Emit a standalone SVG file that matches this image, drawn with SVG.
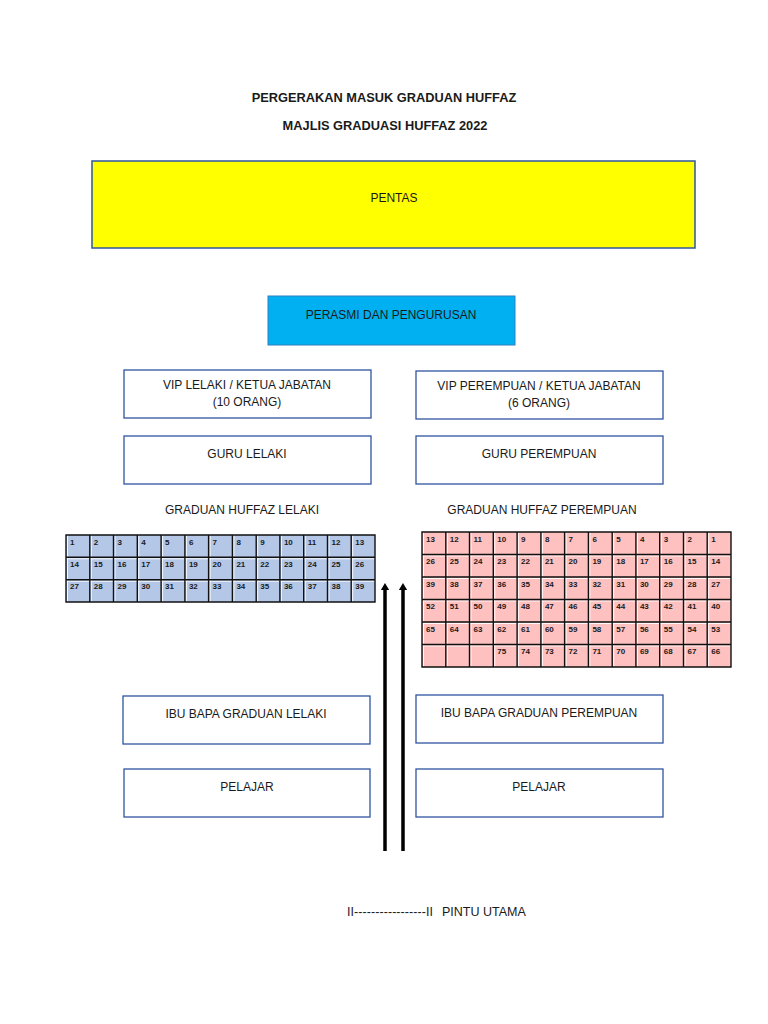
<svg xmlns="http://www.w3.org/2000/svg" width="768" height="1024" viewBox="0 0 768 1024">
<style>
text{font-family:"Liberation Sans",Arial,sans-serif;fill:#1a1a1a}
.t{font-size:12px;text-anchor:middle}
.h{font-size:12.8px;font-weight:bold;text-anchor:middle}
.box{fill:#fff;stroke:#2f55a0;stroke-width:1.3}
.n{font-size:8px;font-weight:bold}
.gl{stroke:#111;stroke-width:1.4;fill:none}
.gw{stroke:#fff;stroke-width:0.9;fill:none}
</style>
<defs>
<marker id="ah" markerWidth="2" markerHeight="2.4" refX="0" refY="1.2" orient="auto" markerUnits="strokeWidth"><path d="M0,0 L2,1.2 L0,2.4 z" fill="#000"/></marker>
</defs>
<rect width="768" height="1024" fill="#fff"/>
<g id="title">
<text class="h" x="384" y="102">PERGERAKAN MASUK GRADUAN HUFFAZ</text>
<text class="h" x="385" y="130">MAJLIS GRADUASI HUFFAZ 2022</text>
</g>
<g id="pentas"><rect x="92" y="161" width="603" height="87" fill="#ffff00" stroke="#2f55a0" stroke-width="1.5"/><text class="t" x="394" y="202">PENTAS</text></g>
<g id="perasmi"><rect x="268" y="296" width="247" height="49" fill="#00b0f0" stroke="#2f80c0" stroke-width="1"/><text class="t" x="391" y="319">PERASMI DAN PENGURUSAN</text></g>
<g id="vip-lelaki"><rect class="box" x="124" y="370" width="247" height="48"/><text class="t" x="247" y="389">VIP LELAKI / KETUA JABATAN</text><text class="t" x="247" y="406">(10 ORANG)</text></g>
<g id="vip-perempuan"><rect class="box" x="416" y="371" width="247" height="48"/><text class="t" x="539" y="390">VIP PEREMPUAN / KETUA JABATAN</text><text class="t" x="539" y="407">(6 ORANG)</text></g>
<g id="guru-lelaki"><rect class="box" x="124" y="436" width="247" height="48"/><text class="t" x="247" y="458">GURU LELAKI</text></g>
<g id="guru-perempuan"><rect class="box" x="416" y="436" width="247" height="48" stroke-width="1.8"/><text class="t" x="539" y="458">GURU PEREMPUAN</text></g>
<g id="labels">
<text class="t" x="242" y="514">GRADUAN HUFFAZ LELAKI</text>
<text class="t" x="542" y="514">GRADUAN HUFFAZ PEREMPUAN</text>
</g>
<g id="grid-lelaki">
<rect x="66" y="535" width="309" height="67" fill="#b4c7e7"/>
<path class="gw" d="M67.5,535V602M91.3,535V602M115,535V602M138.8,535V602M162.6,535V602M186.4,535V602M210.1,535V602M233.9,535V602M257.7,535V602M281.4,535V602M305.2,535V602M329,535V602M352.7,535V602M66,558.8H375M66,581.2H375"/>
<path class="gl" d="M66,535H375V602H66Z M89.8,535V602M113.5,535V602M137.3,535V602M161.1,535V602M184.9,535V602M208.6,535V602M232.4,535V602M256.2,535V602M279.9,535V602M303.7,535V602M327.5,535V602M351.2,535V602M66,557.3H375M66,579.7H375"/>
<g>
<text class="n" x="70" y="544.5">1</text><text class="n" x="93.8" y="544.5">2</text><text class="n" x="117.5" y="544.5">3</text><text class="n" x="141.3" y="544.5">4</text><text class="n" x="165.1" y="544.5">5</text><text class="n" x="188.9" y="544.5">6</text><text class="n" x="212.6" y="544.5">7</text><text class="n" x="236.4" y="544.5">8</text><text class="n" x="260.2" y="544.5">9</text><text class="n" x="283.9" y="544.5">10</text><text class="n" x="307.7" y="544.5">11</text><text class="n" x="331.5" y="544.5">12</text><text class="n" x="355.2" y="544.5">13</text>
<text class="n" x="70" y="566.8">14</text><text class="n" x="93.8" y="566.8">15</text><text class="n" x="117.5" y="566.8">16</text><text class="n" x="141.3" y="566.8">17</text><text class="n" x="165.1" y="566.8">18</text><text class="n" x="188.9" y="566.8">19</text><text class="n" x="212.6" y="566.8">20</text><text class="n" x="236.4" y="566.8">21</text><text class="n" x="260.2" y="566.8">22</text><text class="n" x="283.9" y="566.8">23</text><text class="n" x="307.7" y="566.8">24</text><text class="n" x="331.5" y="566.8">25</text><text class="n" x="355.2" y="566.8">26</text>
<text class="n" x="70" y="589.2">27</text><text class="n" x="93.8" y="589.2">28</text><text class="n" x="117.5" y="589.2">29</text><text class="n" x="141.3" y="589.2">30</text><text class="n" x="165.1" y="589.2">31</text><text class="n" x="188.9" y="589.2">32</text><text class="n" x="212.6" y="589.2">33</text><text class="n" x="236.4" y="589.2">34</text><text class="n" x="260.2" y="589.2">35</text><text class="n" x="283.9" y="589.2">36</text><text class="n" x="307.7" y="589.2">37</text><text class="n" x="331.5" y="589.2">38</text><text class="n" x="355.2" y="589.2">39</text>
</g>
</g>
<g id="grid-perempuan">
<rect x="422" y="532" width="309" height="135" fill="#ffc0c0"/>
<path class="gw" d="M423.5,532V667M447.3,532V667M471,532V667M494.8,532V667M518.6,532V667M542.4,532V667M566.1,532V667M589.9,532V667M613.7,532V667M637.4,532V667M661.2,532V667M685,532V667M708.7,532V667M422,556H731M422,578.5H731M422,601H731M422,623.5H731M422,646H731"/>
<path class="gl" d="M422,532H731V667H422Z M445.8,532V667M469.5,532V667M493.3,532V667M517.1,532V667M540.9,532V667M564.6,532V667M588.4,532V667M612.2,532V667M635.9,532V667M659.7,532V667M683.5,532V667M707.2,532V667M422,554.5H731M422,577H731M422,599.5H731M422,622H731M422,644.5H731"/>
<g>
<text class="n" x="426" y="541.5">13</text><text class="n" x="449.8" y="541.5">12</text><text class="n" x="473.5" y="541.5">11</text><text class="n" x="497.3" y="541.5">10</text><text class="n" x="521.1" y="541.5">9</text><text class="n" x="544.9" y="541.5">8</text><text class="n" x="568.6" y="541.5">7</text><text class="n" x="592.4" y="541.5">6</text><text class="n" x="616.2" y="541.5">5</text><text class="n" x="639.9" y="541.5">4</text><text class="n" x="663.7" y="541.5">3</text><text class="n" x="687.5" y="541.5">2</text><text class="n" x="711.2" y="541.5">1</text>
<text class="n" x="426" y="564">26</text><text class="n" x="449.8" y="564">25</text><text class="n" x="473.5" y="564">24</text><text class="n" x="497.3" y="564">23</text><text class="n" x="521.1" y="564">22</text><text class="n" x="544.9" y="564">21</text><text class="n" x="568.6" y="564">20</text><text class="n" x="592.4" y="564">19</text><text class="n" x="616.2" y="564">18</text><text class="n" x="639.9" y="564">17</text><text class="n" x="663.7" y="564">16</text><text class="n" x="687.5" y="564">15</text><text class="n" x="711.2" y="564">14</text>
<text class="n" x="426" y="586.5">39</text><text class="n" x="449.8" y="586.5">38</text><text class="n" x="473.5" y="586.5">37</text><text class="n" x="497.3" y="586.5">36</text><text class="n" x="521.1" y="586.5">35</text><text class="n" x="544.9" y="586.5">34</text><text class="n" x="568.6" y="586.5">33</text><text class="n" x="592.4" y="586.5">32</text><text class="n" x="616.2" y="586.5">31</text><text class="n" x="639.9" y="586.5">30</text><text class="n" x="663.7" y="586.5">29</text><text class="n" x="687.5" y="586.5">28</text><text class="n" x="711.2" y="586.5">27</text>
<text class="n" x="426" y="609">52</text><text class="n" x="449.8" y="609">51</text><text class="n" x="473.5" y="609">50</text><text class="n" x="497.3" y="609">49</text><text class="n" x="521.1" y="609">48</text><text class="n" x="544.9" y="609">47</text><text class="n" x="568.6" y="609">46</text><text class="n" x="592.4" y="609">45</text><text class="n" x="616.2" y="609">44</text><text class="n" x="639.9" y="609">43</text><text class="n" x="663.7" y="609">42</text><text class="n" x="687.5" y="609">41</text><text class="n" x="711.2" y="609">40</text>
<text class="n" x="426" y="631.5">65</text><text class="n" x="449.8" y="631.5">64</text><text class="n" x="473.5" y="631.5">63</text><text class="n" x="497.3" y="631.5">62</text><text class="n" x="521.1" y="631.5">61</text><text class="n" x="544.9" y="631.5">60</text><text class="n" x="568.6" y="631.5">59</text><text class="n" x="592.4" y="631.5">58</text><text class="n" x="616.2" y="631.5">57</text><text class="n" x="639.9" y="631.5">56</text><text class="n" x="663.7" y="631.5">55</text><text class="n" x="687.5" y="631.5">54</text><text class="n" x="711.2" y="631.5">53</text>
<text class="n" x="497.3" y="654">75</text><text class="n" x="521.1" y="654">74</text><text class="n" x="544.9" y="654">73</text><text class="n" x="568.6" y="654">72</text><text class="n" x="592.4" y="654">71</text><text class="n" x="616.2" y="654">70</text><text class="n" x="639.9" y="654">69</text><text class="n" x="663.7" y="654">68</text><text class="n" x="687.5" y="654">67</text><text class="n" x="711.2" y="654">66</text>
</g>
</g>
<g id="ibubapa-lelaki"><rect class="box" x="123" y="696" width="247" height="48" stroke-width="1.6"/><text class="t" x="246" y="718">IBU BAPA GRADUAN LELAKI</text></g>
<g id="ibubapa-perempuan"><rect class="box" x="416" y="695" width="247" height="48"/><text class="t" x="539" y="717">IBU BAPA GRADUAN PEREMPUAN</text></g>
<g id="pelajar-lelaki"><rect class="box" x="124" y="769" width="246" height="48"/><text class="t" x="247" y="791">PELAJAR</text></g>
<g id="pelajar-perempuan"><rect class="box" x="416" y="769" width="247" height="48" stroke-width="1.8"/><text class="t" x="539" y="791">PELAJAR</text></g>
<g id="connectors">
<line x1="385" y1="851" x2="385" y2="590" stroke="#000" stroke-width="3.5" marker-end="url(#ah)"/>
<line x1="403" y1="851" x2="403" y2="590" stroke="#000" stroke-width="3.5" marker-end="url(#ah)"/>
</g>
<g id="pintu"><text x="347" y="916" style="font-size:12.5px;white-space:pre"><tspan textLength="86" lengthAdjust="spacing">II-----------------II</tspan><tspan x="442">PINTU UTAMA</tspan></text></g>
</svg>
